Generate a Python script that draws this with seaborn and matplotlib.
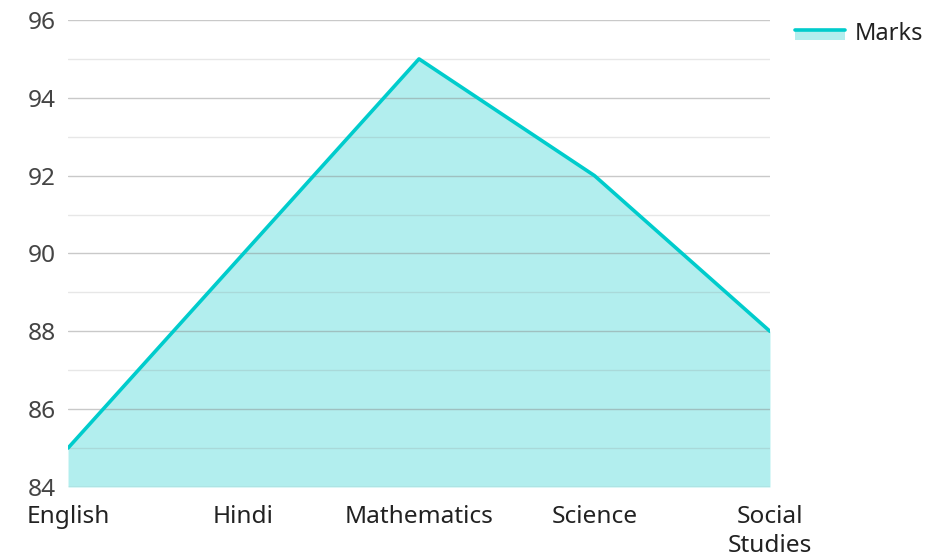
import pandas as pd
import numpy as np
import matplotlib
matplotlib.use("Agg")
import matplotlib.pyplot as plt
import seaborn as sns
from matplotlib.legend_handler import HandlerBase
from matplotlib.patches import Rectangle
from matplotlib.lines import Line2D
from matplotlib.ticker import MultipleLocator

# ---------- data ----------
subjects = ["English", "Hindi", "Mathematics", "Science", "Social Studies"]
marks = [85, 90, 95, 92, 88]
tick_labels = ["English", "Hindi", "Mathematics", "Science", "Social\nStudies"]

df = pd.DataFrame({"Subject": subjects, "Marks": marks})

line_col = "#00cccc"
fill_col = "#b2eeee"

sns.set_style("white")
plt.rcParams["font.family"] = ["Noto Sans", "DejaVu Sans"]

fig = plt.figure(figsize=(9.28, 5.6), dpi=100)
ax = fig.add_axes([0.0733, 0.1304, 0.7564, 0.8339])

x = np.arange(len(subjects))
ax.fill_between(x, marks, 84, color=fill_col, linewidth=0, zorder=1)
sns.lineplot(data=df, x="Subject", y="Marks", color=line_col, linewidth=2.6,
             ax=ax, zorder=3, sort=False)

ax.set_xlim(0, 4)
ax.set_ylim(84, 96)
ax.yaxis.set_major_locator(MultipleLocator(2))
ax.yaxis.set_minor_locator(MultipleLocator(1))
ax.grid(axis="y", which="major", color="#888888", alpha=0.45, linewidth=1, zorder=2)
ax.grid(axis="y", which="minor", color="#888888", alpha=0.2, linewidth=1, zorder=2)
ax.set_axisbelow(False)
for sp in ax.spines.values():
    sp.set_visible(False)

ax.set_xticks(x)
ax.set_xticklabels(tick_labels, fontsize=17.6, color="#222222", linespacing=1.3)
ax.tick_params(axis="x", length=0, pad=13)
ax.tick_params(axis="y", which="both", length=0, pad=9, labelsize=17.6, labelcolor="#444444")
ax.set_xlabel("")
ax.set_ylabel("")


class AreaHandler(HandlerBase):
    def create_artists(self, legend, orig_handle, xdescent, ydescent,
                       width, height, fontsize, trans):
        h = height * 0.6
        rect = Rectangle((-xdescent, -ydescent), width, h,
                         facecolor=fill_col, edgecolor="none", transform=trans)
        ln = Line2D([-xdescent, -xdescent + width], [-ydescent + h, -ydescent + h],
                    color=line_col, linewidth=2.6, transform=trans)
        return [rect, ln]


fig.legend([object()], ["Marks"], handler_map={object: AreaHandler()},
           loc="center left", bbox_to_anchor=(0.857, 0.94), frameon=False,
           borderpad=0, borderaxespad=0,
           fontsize=17, handlelength=2.1, handleheight=0.7, handletextpad=0.42,
           labelcolor="#222222")

plt.savefig("out.png", dpi=100)
